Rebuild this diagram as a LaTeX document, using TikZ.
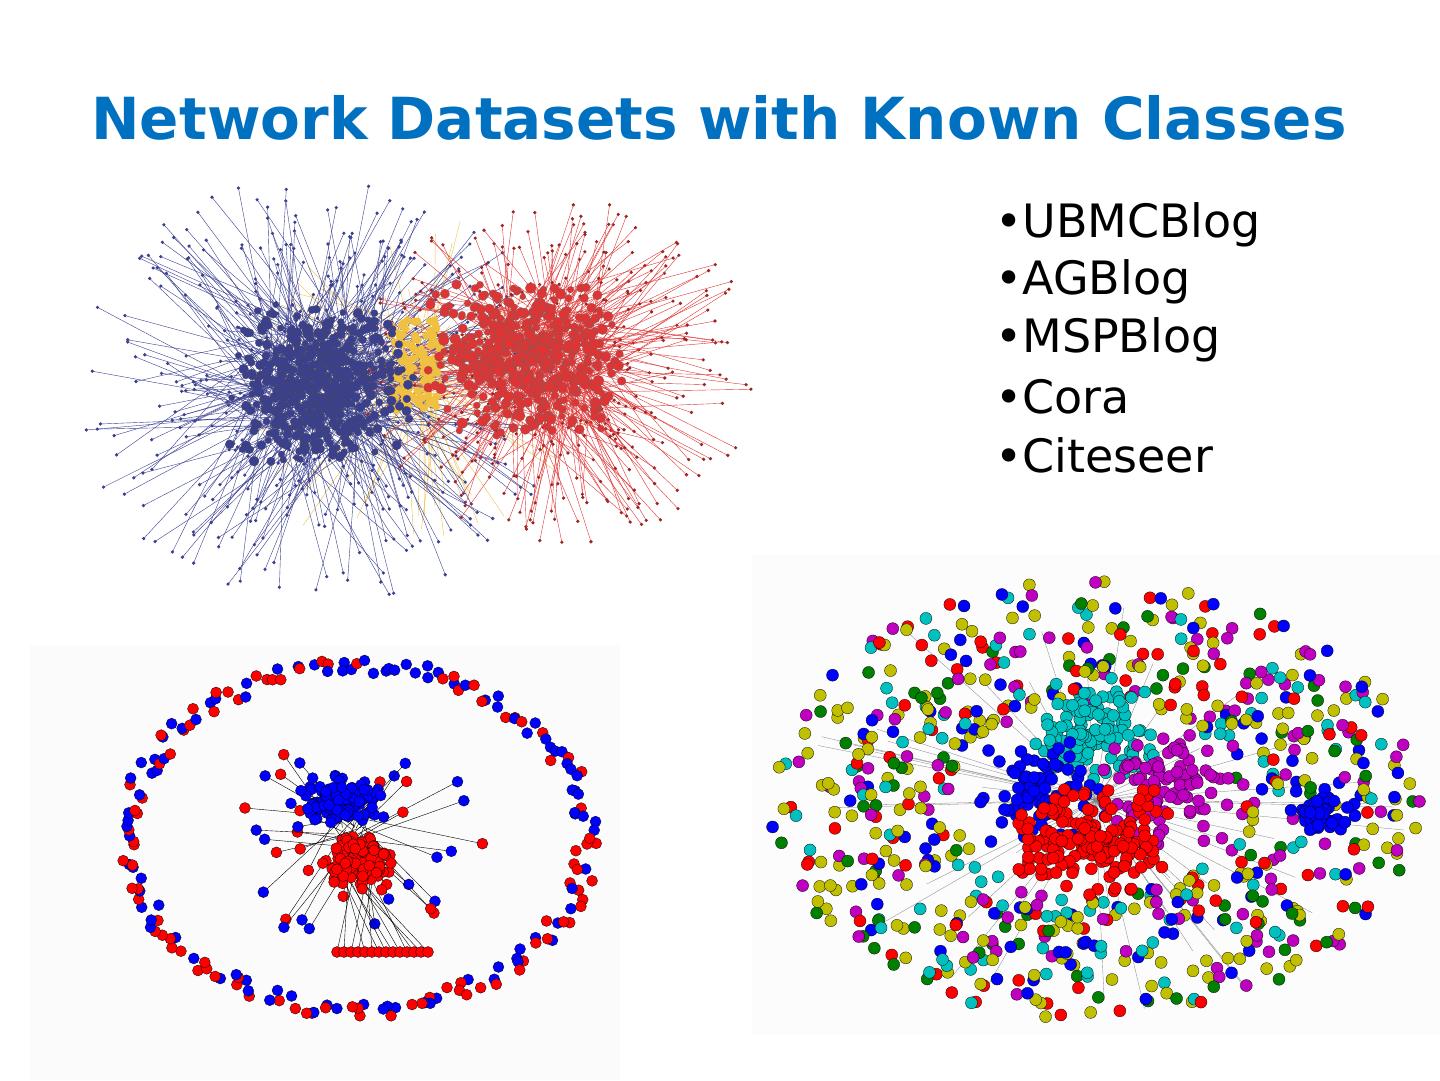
\documentclass[tikz,border=0pt]{standalone}
\usepackage{fontspec}
\setmainfont{DejaVu Sans}
\begin{document}
\definecolor{titleblue}{HTML}{0070C0}
\definecolor{navy}{HTML}{3A3F8F}
\definecolor{bred}{HTML}{E03434}
\definecolor{byel}{HTML}{F0C040}
\definecolor{cgreen}{HTML}{008000}
\definecolor{ccyan}{HTML}{00C0C0}
\definecolor{cmag}{HTML}{C000C0}
\definecolor{colive}{HTML}{C0C000}
\tikzset{
 titletext/.style={font=\bfseries\fontsize{58}{66}\selectfont, text=titleblue},
 item/.style={anchor=west, font=\fontsize{46}{52}\selectfont, inner sep=0},
 nedge/.style={line width=0.4pt},
 dotb/.style={draw=black, line width=0.3pt},
}
\begin{tikzpicture}[x=1pt,y=-1pt]
\useasboundingbox (0,0) rectangle (1440,1080);
\fill[white] (0,0) rectangle (1440,1080);
\node[titletext] (title) at (719,118) {Network Datasets with Known Classes};
\node[item] (i1) at (995,225) {•UBMCBlog};
\node[item] (i2) at (995,282) {•AGBlog};
\node[item] (i3) at (995,340) {•MSPBlog};
\node[item] (i4) at (995,397) {•Cora};
\node[item] (i5) at (995,455) {•Citeseer};
\pgfmathsetseed{7}
% ---------- top-left political blogs ----------
\foreach \i in {1,...,90}{
 \pgfmathsetmacro\t{rand*180}\pgfmathsetmacro\r{0.6+0.4*rand}
 \draw[byel,nedge] ({420+20*rand},{360+40*rand}) -- ({420+180*\r*cos(\t)},{390+180*\r*sin(\t)});
}
\foreach \i in {1,...,420}{
 \pgfmathsetmacro\t{rand*180}\pgfmathsetmacro\r{0.65+0.35*rand}
 \pgfmathsetmacro\ex{320+245*\r*cos(\t)}\pgfmathsetmacro\ey{390+215*\r*sin(\t)}
 \draw[navy,nedge] ({320+60*rand},{385+50*rand}) -- (\ex,\ey);
 \fill[navy] (\ex,\ey) circle (1.8);
}
\foreach \i in {1,...,380}{
 \pgfmathsetmacro\t{rand*180}\pgfmathsetmacro\r{0.65+0.35*rand}
 \pgfmathsetmacro\ex{560+200*\r*cos(\t)}\pgfmathsetmacro\ey{370+175*\r*sin(\t)}
 \draw[bred,nedge] ({545+50*rand},{360+50*rand}) -- (\ex,\ey);
 \fill[bred!70!black] (\ex,\ey) circle (1.8);
}
\foreach \i in {1,...,120}{
 \fill[byel] ({415+25*rand},{365+45*rand}) circle (4);
}
\foreach \i in {1,...,550}{
 \pgfmathsetmacro\s{3+2*rnd}
 \filldraw[fill=navy,draw=black!70,line width=0.2pt] ({320+48*(rand+rand)},{385+42*(rand+rand)}) circle (\s);
}
\foreach \i in {1,...,500}{
 \pgfmathsetmacro\s{3+2.5*rnd}
 \filldraw[fill=bred,draw=black!60,line width=0.2pt] ({525+50*(rand+rand)},{358+42*(rand+rand)}) circle (\s);
}
% ---------- bottom-left ----------
\fill[black!1.5] (30,645) rectangle (620,1080);
\pgfmathdeclarerandomlist{rb}{{red}{blue}}
\foreach \i in {1,...,190}{
 \pgfmathsetmacro\t{\i/190*360+2*rand}\pgfmathsetmacro\r{1+0.05*rand}
 \pgfmathrandomitem{\cl}{rb}
 \filldraw[fill=\cl,dotb] ({358+230*\r*cos(\t)},{838+172*\r*sin(\t)}) circle (5.5);
}
\foreach \i in {1,...,40}{
 \pgfmathsetmacro\t{rand*180}\pgfmathsetmacro\r{0.7+0.3*rand}
 \pgfmathsetmacro\ex{355+130*\r*cos(\t)}\pgfmathsetmacro\ey{840+105*\r*sin(\t)}
 \pgfmathrandomitem{\cl}{rb}
 \draw[black,line width=0.4pt] ({350+15*rand},{830+20*rand}) -- (\ex,\ey);
 \filldraw[fill=\cl,dotb] (\ex,\ey) circle (5.5);
}
\foreach \i in {1,...,14}{
 \draw[black,line width=0.4pt] ({360+20*rand},{870+10*rand}) -- ({330+7*\i},952);
 \filldraw[fill=red,dotb] ({330+7*\i},952) circle (5.5);
}
\foreach \i in {1,...,110}{
 \filldraw[fill=blue,dotb] ({343+22*(rand+rand)},{800+14*(rand+rand)}) circle (5.5);
}
\foreach \i in {1,...,110}{
 \filldraw[fill=red,dotb] ({360+20*(rand+rand)},{862+14*(rand+rand)}) circle (5.5);
}
% ---------- bottom-right ----------
\fill[black!1] (752,555) rectangle (1440,1035);
\pgfmathdeclarerandomlist{cc}{{red}{blue}{cgreen}{ccyan}{cmag}{colive}{colive}}
\foreach \i in {1,...,60}{
 \pgfmathsetmacro\t{rand*180}\pgfmathsetmacro\r{0.6+0.4*rand}
 \draw[black!50,line width=0.3pt] (1095,800) -- ({1095+320*\r*cos(\t)},{800+220*\r*sin(\t)});
}
\foreach \i in {1,...,700}{
 \pgfmathsetmacro\t{rand*180}\pgfmathsetmacro\r{0.72+0.28*rand}
 \pgfmathrandomitem{\cl}{cc}
 \filldraw[fill=\cl,dotb] ({1095+325*\r*cos(\t)},{800+220*\r*sin(\t)}) circle (6);
}
\foreach \i in {1,...,120}{
 \filldraw[fill=ccyan,dotb] ({1095+35*(rand+rand)},{735+25*(rand+rand)}) circle (6);
}
\foreach \i in {1,...,100}{
 \filldraw[fill=cmag,dotb] ({1165+35*(rand+rand)},{790+30*(rand+rand)}) circle (6);
}
\foreach \i in {1,...,80}{
 \filldraw[fill=blue,dotb] ({1040+35*(rand+rand)},{790+28*(rand+rand)}) circle (6);
}
\foreach \i in {1,...,50}{
 \filldraw[fill=blue,dotb] ({1320+18*(rand+rand)},{815+10*(rand+rand)}) circle (6);
}
\foreach \i in {1,...,170}{
 \pgfmathrandomitem{\cl}{cc}
 \filldraw[fill=red,dotb] ({1090+40*(rand+rand)},{840+28*(rand+rand)}) circle (6);
}
\end{tikzpicture}
\end{document}
